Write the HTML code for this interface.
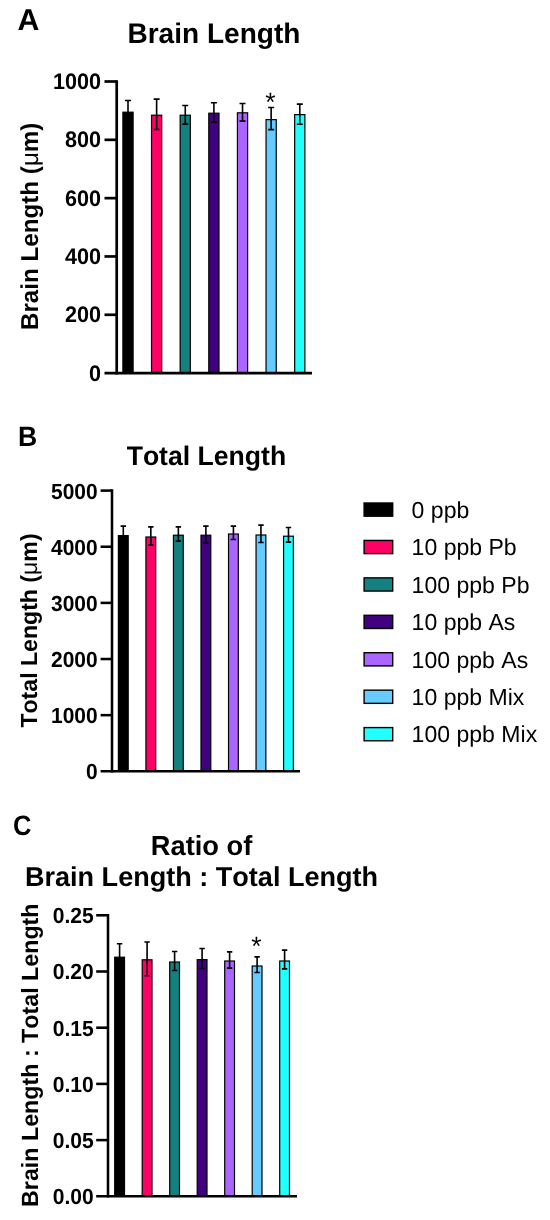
<!DOCTYPE html>
<html lang="en"><head><meta charset="utf-8"><title>Brain Length, Total Length and Ratio</title>
<style>html,body{margin:0;padding:0;background:#fff}body{width:550px;height:1220px;overflow:hidden}svg{display:block;font-family:'Liberation Sans', Arial, Helvetica, sans-serif;fill:#000;font-kerning:none;text-rendering:geometricPrecision}</style></head><body>
<svg width="550" height="1220" viewBox="0 0 550 1220">
<rect x="0" y="0" width="550" height="1220" fill="#fff"/>
<g>
<text transform="translate(17.45 29.8) scale(1 1)" font-size="30.25" font-weight="700">A</text>
<text transform="translate(213.9 43.2) scale(1 1.01)" font-size="28.05" font-weight="700" text-anchor="middle">Brain Length</text>
<text transform="translate(37.7 226.3) rotate(-90) scale(1 1.01)" font-size="24.2" font-weight="700" text-anchor="middle">Brain Length (<tspan font-weight="400">μ</tspan>m)</text>
<rect x="122.9" y="112.2" width="10.2" height="260.9" fill="#000000" stroke="#000" stroke-width="1.2"/>
<path d="M128 99.7V122.9M125 100.5H131M125 122.1H131" stroke="#000" stroke-width="1.6" fill="none"/>
<rect x="151.53" y="115.2" width="10.2" height="257.9" fill="#FF0066" stroke="#000" stroke-width="1.2"/>
<path d="M156.63 98.3V130.3M153.63 99.1H159.63M153.63 129.5H159.63" stroke="#000" stroke-width="1.6" fill="none"/>
<rect x="180.16" y="115.2" width="10.2" height="257.9" fill="#158080" stroke="#000" stroke-width="1.2"/>
<path d="M185.26 104.7V124.9M182.26 105.5H188.26M182.26 124.1H188.26" stroke="#000" stroke-width="1.6" fill="none"/>
<rect x="208.79" y="113.2" width="10.2" height="259.9" fill="#400080" stroke="#000" stroke-width="1.2"/>
<path d="M213.89 101.9V122.9M210.89 102.7H216.89M210.89 122.1H216.89" stroke="#000" stroke-width="1.6" fill="none"/>
<rect x="237.42" y="112.8" width="10.2" height="260.3" fill="#AA66FF" stroke="#000" stroke-width="1.2"/>
<path d="M242.52 102.7V121.9M239.52 103.5H245.52M239.52 121.1H245.52" stroke="#000" stroke-width="1.6" fill="none"/>
<rect x="266.05" y="119.6" width="10.2" height="253.5" fill="#66CCFF" stroke="#000" stroke-width="1.2"/>
<path d="M271.15 106.7V130.4M268.15 107.5H274.15M268.15 129.6H274.15" stroke="#000" stroke-width="1.6" fill="none"/>
<rect x="294.68" y="114.6" width="10.2" height="258.5" fill="#22FFFF" stroke="#000" stroke-width="1.2"/>
<path d="M299.78 103.3V125M296.78 104.1H302.78M296.78 124.2H302.78" stroke="#000" stroke-width="1.6" fill="none"/>
<path d="M116.7 80.15V374.45" stroke="#000" stroke-width="2.7" fill="none"/>
<path d="M104.5 373.1H312" stroke="#000" stroke-width="2.7" fill="none"/>
<text transform="translate(101 380.7) scale(1 1.04)" font-size="21.6" font-weight="700" text-anchor="end">0</text>
<path d="M104.5 314.78H116.7" stroke="#000" stroke-width="2.7" fill="none"/>
<text transform="translate(101 322.38) scale(1 1.04)" font-size="21.6" font-weight="700" text-anchor="end">200</text>
<path d="M104.5 256.46H116.7" stroke="#000" stroke-width="2.7" fill="none"/>
<text transform="translate(101 264.06) scale(1 1.04)" font-size="21.6" font-weight="700" text-anchor="end">400</text>
<path d="M104.5 198.14H116.7" stroke="#000" stroke-width="2.7" fill="none"/>
<text transform="translate(101 205.74) scale(1 1.04)" font-size="21.6" font-weight="700" text-anchor="end">600</text>
<path d="M104.5 139.82H116.7" stroke="#000" stroke-width="2.7" fill="none"/>
<text transform="translate(101 147.42) scale(1 1.04)" font-size="21.6" font-weight="700" text-anchor="end">800</text>
<path d="M104.5 81.5H116.7" stroke="#000" stroke-width="2.7" fill="none"/>
<text transform="translate(101 89.1) scale(1 1.04)" font-size="21.6" font-weight="700" text-anchor="end">1000</text>
<text transform="translate(270.5 110.6) scale(1 1)" font-size="26.4" text-anchor="middle">*</text>
</g>
<g>
<text transform="translate(18 445.8) scale(1 1.05)" font-size="26.6" font-weight="700">B</text>
<text transform="translate(206.4 465) scale(1 1.01)" font-size="26.6" font-weight="700" text-anchor="middle">Total Length</text>
<text transform="translate(36.6 630.5) rotate(-90) scale(1 1.01)" font-size="23.1" font-weight="700" text-anchor="middle">Total Length (<tspan font-weight="400">μ</tspan>m)</text>
<rect x="118.4" y="535.6" width="9.8" height="235.7" fill="#000000" stroke="#000" stroke-width="1.2"/>
<path d="M123.3 525.3V544.3M120.6 526.1H126M120.6 543.5H126" stroke="#000" stroke-width="1.6" fill="none"/>
<rect x="145.93" y="537" width="9.8" height="234.3" fill="#FF0066" stroke="#000" stroke-width="1.2"/>
<path d="M150.83 526.1V545.8M148.13 526.9H153.53M148.13 545H153.53" stroke="#000" stroke-width="1.6" fill="none"/>
<rect x="173.46" y="535.2" width="9.8" height="236.1" fill="#158080" stroke="#000" stroke-width="1.2"/>
<path d="M178.36 526.1V541.9M175.66 526.9H181.06M175.66 541.1H181.06" stroke="#000" stroke-width="1.6" fill="none"/>
<rect x="200.99" y="535.2" width="9.8" height="236.1" fill="#400080" stroke="#000" stroke-width="1.2"/>
<path d="M205.89 525.3V543.8M203.19 526.1H208.59M203.19 543H208.59" stroke="#000" stroke-width="1.6" fill="none"/>
<rect x="228.52" y="534" width="9.8" height="237.3" fill="#AA66FF" stroke="#000" stroke-width="1.2"/>
<path d="M233.42 525.3V540.3M230.72 526.1H236.12M230.72 539.5H236.12" stroke="#000" stroke-width="1.6" fill="none"/>
<rect x="256.05" y="535" width="9.8" height="236.3" fill="#66CCFF" stroke="#000" stroke-width="1.2"/>
<path d="M260.95 524.3V543.3M258.25 525.1H263.65M258.25 542.5H263.65" stroke="#000" stroke-width="1.6" fill="none"/>
<rect x="283.58" y="536.2" width="9.8" height="235.1" fill="#22FFFF" stroke="#000" stroke-width="1.2"/>
<path d="M288.48 526.7V542.9M285.78 527.5H291.18M285.78 542.1H291.18" stroke="#000" stroke-width="1.6" fill="none"/>
<path d="M112 489.33V772.57" stroke="#000" stroke-width="2.55" fill="none"/>
<path d="M100.6 771.3H300" stroke="#000" stroke-width="2.55" fill="none"/>
<text transform="translate(97.7 779.3) scale(1 1.04)" font-size="21" font-weight="700" text-anchor="end">0</text>
<path d="M100.6 715.16H112" stroke="#000" stroke-width="2.55" fill="none"/>
<text transform="translate(97.7 723.16) scale(1 1.04)" font-size="21" font-weight="700" text-anchor="end">1000</text>
<path d="M100.6 659.02H112" stroke="#000" stroke-width="2.55" fill="none"/>
<text transform="translate(97.7 667.02) scale(1 1.04)" font-size="21" font-weight="700" text-anchor="end">2000</text>
<path d="M100.6 602.88H112" stroke="#000" stroke-width="2.55" fill="none"/>
<text transform="translate(97.7 610.88) scale(1 1.04)" font-size="21" font-weight="700" text-anchor="end">3000</text>
<path d="M100.6 546.74H112" stroke="#000" stroke-width="2.55" fill="none"/>
<text transform="translate(97.7 554.74) scale(1 1.04)" font-size="21" font-weight="700" text-anchor="end">4000</text>
<path d="M100.6 490.6H112" stroke="#000" stroke-width="2.55" fill="none"/>
<text transform="translate(97.7 498.6) scale(1 1.04)" font-size="21" font-weight="700" text-anchor="end">5000</text>
</g>
<g>
<text transform="translate(13 835.2) scale(1 1.1)" font-size="25.5" font-weight="700">C</text>
<text transform="translate(201.5 855) scale(1 1.01)" font-size="27.25" font-weight="700" text-anchor="middle">Ratio of</text>
<text transform="translate(201.5 886.4) scale(1 1.01)" font-size="27.05" font-weight="700" text-anchor="middle">Brain Length : Total Length</text>
<text transform="translate(38.3 1055.2) rotate(-90) scale(1 1.01)" font-size="23.25" font-weight="700" text-anchor="middle">Brain Length : Total Length</text>
<rect x="114.7" y="957.2" width="9.8" height="239.1" fill="#000000" stroke="#000" stroke-width="1.2"/>
<path d="M119.6 942.9V970.3M116.9 943.7H122.3M116.9 969.5H122.3" stroke="#000" stroke-width="1.6" fill="none"/>
<rect x="142.2" y="959.8" width="9.8" height="236.5" fill="#FF0066" stroke="#000" stroke-width="1.2"/>
<path d="M147.1 941.2V976.5M144.4 942H149.8M144.4 975.7H149.8" stroke="#000" stroke-width="1.6" fill="none"/>
<rect x="169.7" y="962" width="9.8" height="234.3" fill="#158080" stroke="#000" stroke-width="1.2"/>
<path d="M174.6 950.7V971.3M171.9 951.5H177.3M171.9 970.5H177.3" stroke="#000" stroke-width="1.6" fill="none"/>
<rect x="197.2" y="959.6" width="9.8" height="236.7" fill="#400080" stroke="#000" stroke-width="1.2"/>
<path d="M202.1 947.7V969.3M199.4 948.5H204.8M199.4 968.5H204.8" stroke="#000" stroke-width="1.6" fill="none"/>
<rect x="224.7" y="961" width="9.8" height="235.3" fill="#AA66FF" stroke="#000" stroke-width="1.2"/>
<path d="M229.6 951.1V968.9M226.9 951.9H232.3M226.9 968.1H232.3" stroke="#000" stroke-width="1.6" fill="none"/>
<rect x="252.2" y="966" width="9.8" height="230.3" fill="#66CCFF" stroke="#000" stroke-width="1.2"/>
<path d="M257.1 956.1V973.3M254.4 956.9H259.8M254.4 972.5H259.8" stroke="#000" stroke-width="1.6" fill="none"/>
<rect x="279.7" y="961" width="9.8" height="235.3" fill="#22FFFF" stroke="#000" stroke-width="1.2"/>
<path d="M284.6 949.3V969.7M281.9 950.1H287.3M281.9 968.9H287.3" stroke="#000" stroke-width="1.6" fill="none"/>
<path d="M108 914.02V1197.58" stroke="#000" stroke-width="2.55" fill="none"/>
<path d="M96.2 1196.3H297" stroke="#000" stroke-width="2.55" fill="none"/>
<text transform="translate(93.8 1204.1) scale(1 1.04)" font-size="21.1" font-weight="700" text-anchor="end">0.00</text>
<path d="M96.2 1140.1H108" stroke="#000" stroke-width="2.55" fill="none"/>
<text transform="translate(93.8 1147.9) scale(1 1.04)" font-size="21.1" font-weight="700" text-anchor="end">0.05</text>
<path d="M96.2 1083.9H108" stroke="#000" stroke-width="2.55" fill="none"/>
<text transform="translate(93.8 1091.7) scale(1 1.04)" font-size="21.1" font-weight="700" text-anchor="end">0.10</text>
<path d="M96.2 1027.7H108" stroke="#000" stroke-width="2.55" fill="none"/>
<text transform="translate(93.8 1035.5) scale(1 1.04)" font-size="21.1" font-weight="700" text-anchor="end">0.15</text>
<path d="M96.2 971.5H108" stroke="#000" stroke-width="2.55" fill="none"/>
<text transform="translate(93.8 979.3) scale(1 1.04)" font-size="21.1" font-weight="700" text-anchor="end">0.20</text>
<path d="M96.2 915.3H108" stroke="#000" stroke-width="2.55" fill="none"/>
<text transform="translate(93.8 923.1) scale(1 1.04)" font-size="21.1" font-weight="700" text-anchor="end">0.25</text>
<text transform="translate(256.5 954.6) scale(1 1)" font-size="26.4" text-anchor="middle">*</text>
</g>
<g>
<rect x="364.1" y="503" width="28.6" height="13.2" fill="#000000" stroke="#000" stroke-width="1.4"/>
<text transform="translate(411.6 517.9) scale(1 1.01)" font-size="23.05">0 ppb</text>
<rect x="364.1" y="540.43" width="28.6" height="13.2" fill="#FF0066" stroke="#000" stroke-width="1.4"/>
<text transform="translate(411.6 555.33) scale(1 1.01)" font-size="23.05">10 ppb Pb</text>
<rect x="364.1" y="577.86" width="28.6" height="13.2" fill="#158080" stroke="#000" stroke-width="1.4"/>
<text transform="translate(411.6 592.76) scale(1 1.01)" font-size="23.05">100 ppb Pb</text>
<rect x="364.1" y="615.29" width="28.6" height="13.2" fill="#400080" stroke="#000" stroke-width="1.4"/>
<text transform="translate(411.6 630.19) scale(1 1.01)" font-size="23.05">10 ppb As</text>
<rect x="364.1" y="652.72" width="28.6" height="13.2" fill="#AA66FF" stroke="#000" stroke-width="1.4"/>
<text transform="translate(411.6 667.62) scale(1 1.01)" font-size="23.05">100 ppb As</text>
<rect x="364.1" y="690.15" width="28.6" height="13.2" fill="#66CCFF" stroke="#000" stroke-width="1.4"/>
<text transform="translate(411.6 705.05) scale(1 1.01)" font-size="23.05">10 ppb Mix</text>
<rect x="364.1" y="727.58" width="28.6" height="13.2" fill="#22FFFF" stroke="#000" stroke-width="1.4"/>
<text transform="translate(411.6 742.48) scale(1 1.01)" font-size="23.05">100 ppb Mix</text>
</g>
</svg></body></html>
